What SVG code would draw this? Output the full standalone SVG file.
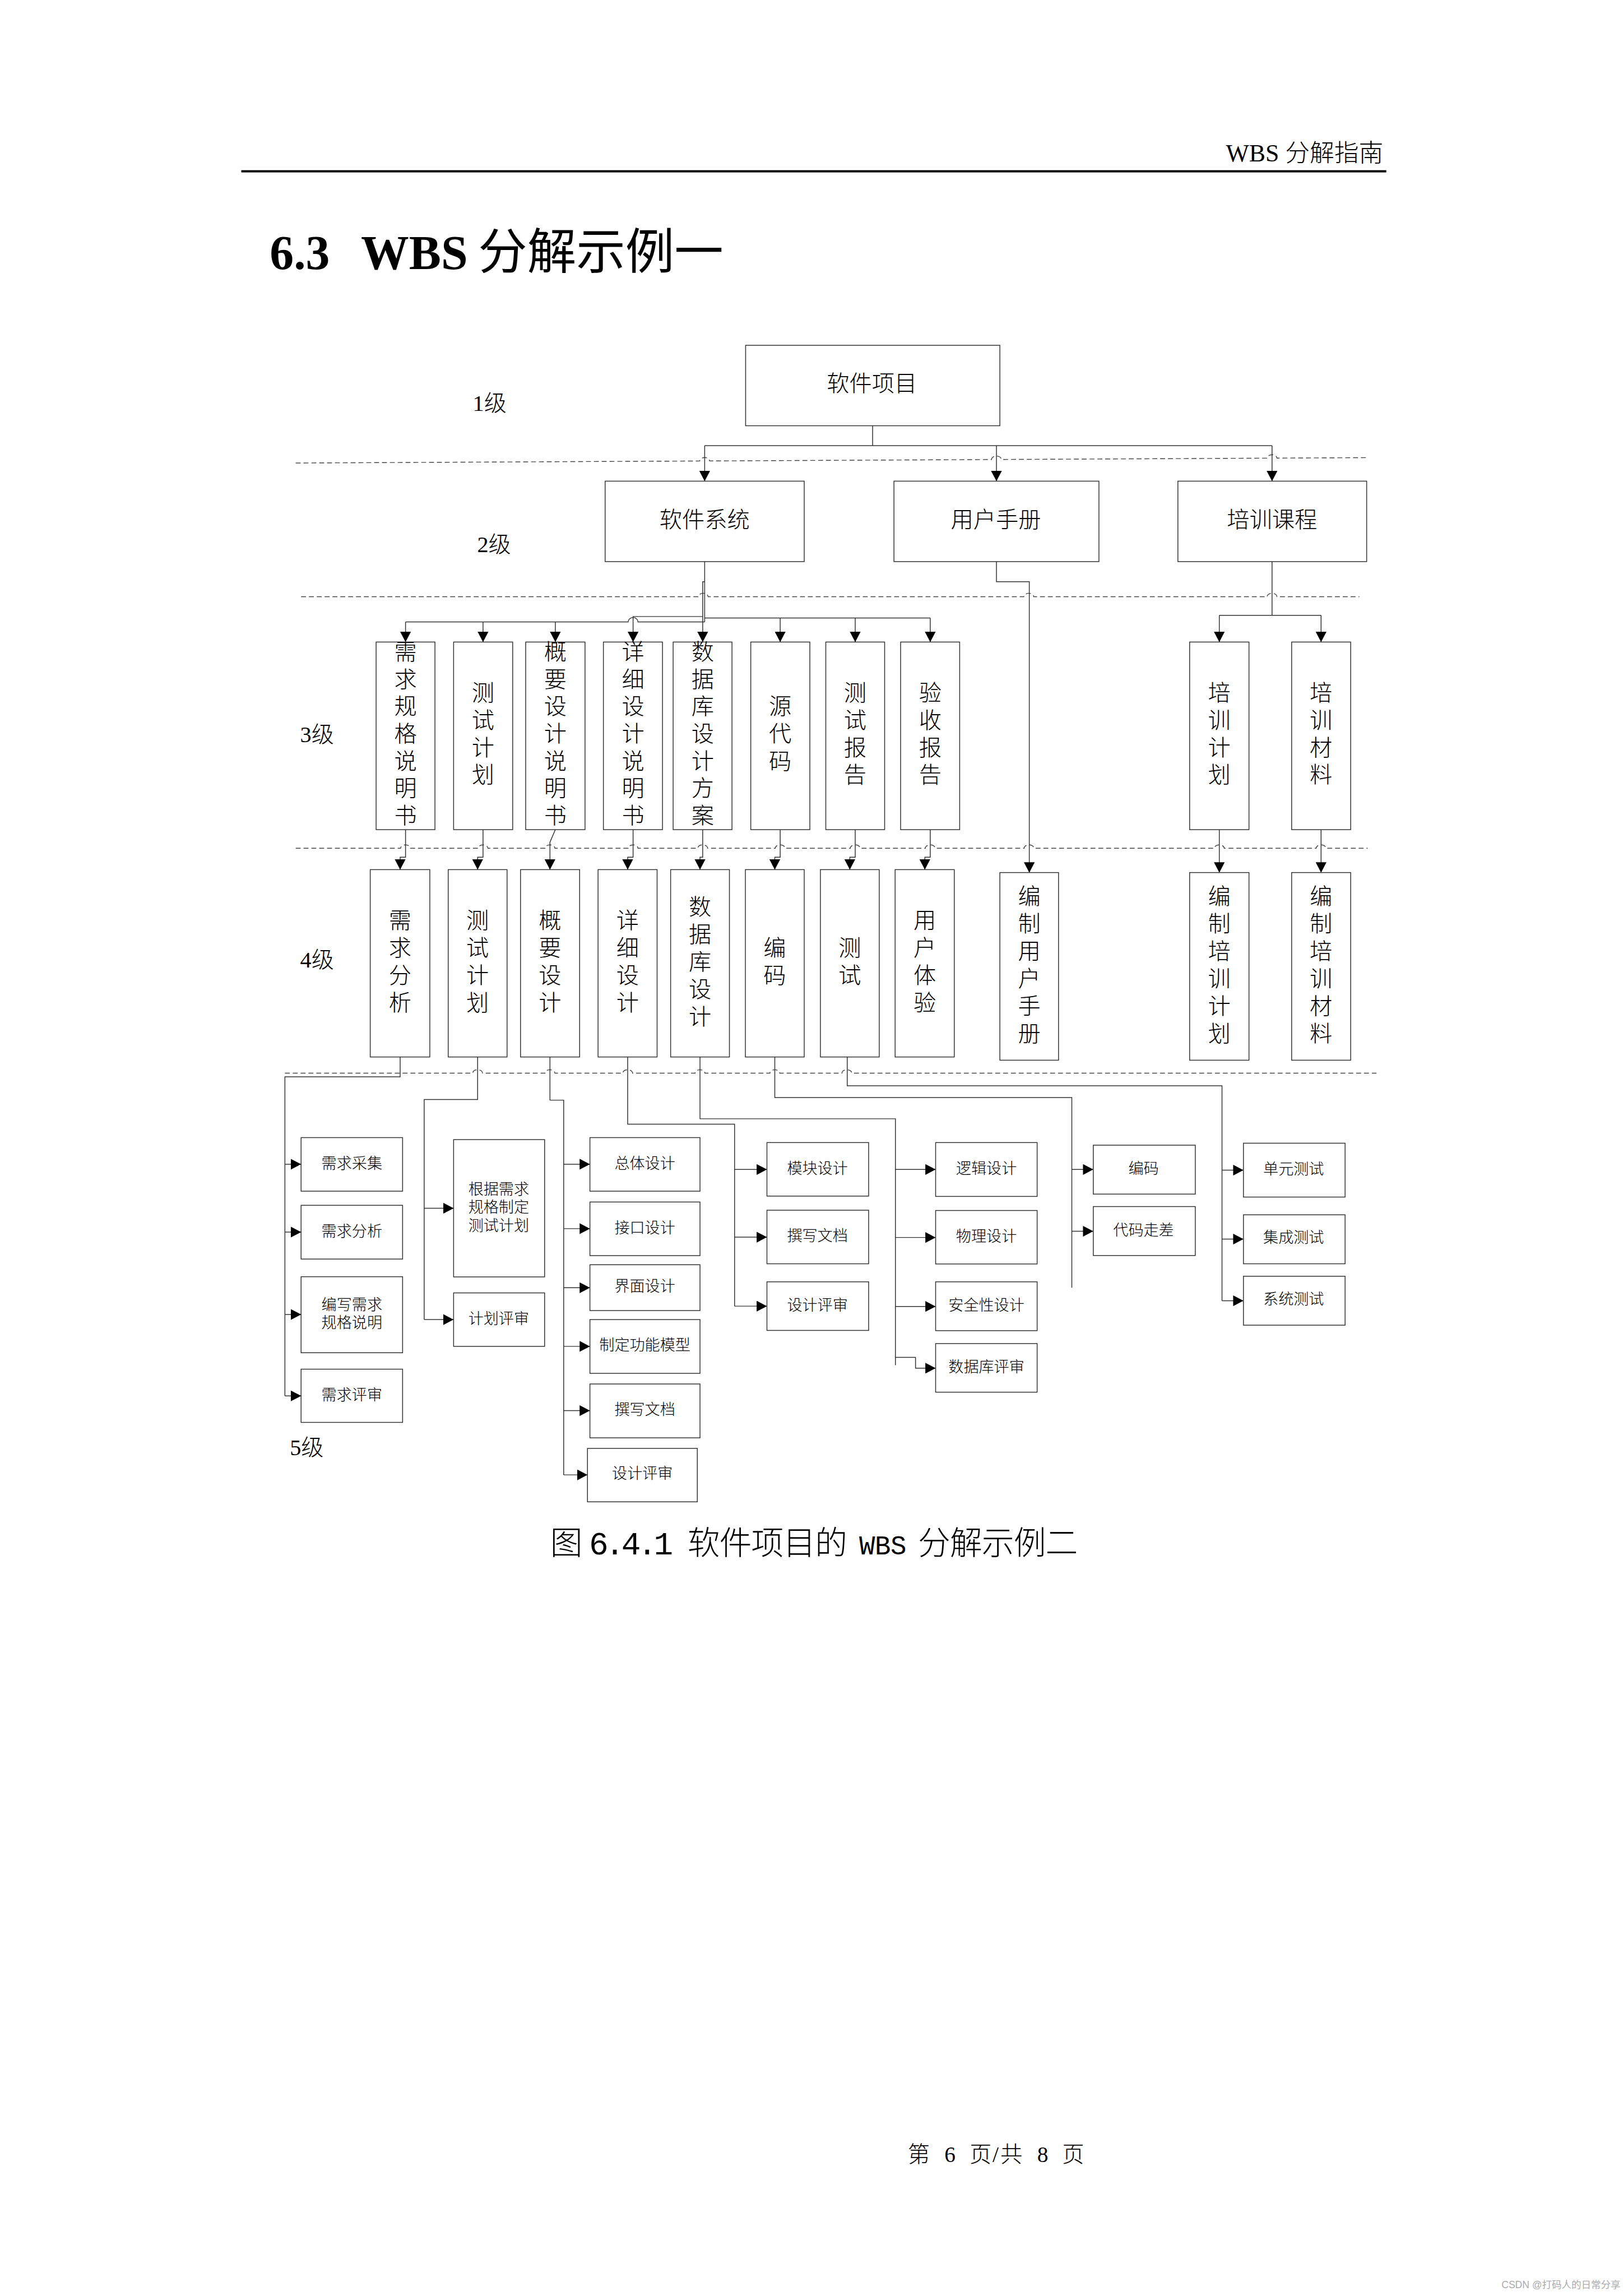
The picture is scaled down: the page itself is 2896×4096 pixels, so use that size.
<svg xmlns="http://www.w3.org/2000/svg" width="2896" height="4096" viewBox="0 0 2896 4096">
<style>
text{font-family:"Liberation Serif","Noto Sans CJK SC",serif;fill:#000}
.n rect{fill:#fff;stroke:#333;stroke-width:1.7}
.n text{font-weight:300;text-anchor:middle;dominant-baseline:central}
.b text{font-size:46px}
.s text{font-size:31px}
.c path{fill:none;stroke:#333;stroke-width:1.7}
.c .a{marker-end:url(#ah)}
.d path{fill:none;stroke:#444;stroke-width:1.6;stroke-dasharray:10 6}
.l{font-size:46px;font-weight:300}
</style>
<defs><marker id="ah" markerUnits="userSpaceOnUse" markerWidth="21" markerHeight="22" viewBox="0 0 21 22" refX="21" refY="11" orient="auto"><path d="M0 0L21 11L0 22Z" fill="#000"/></marker></defs>
<rect width="2896" height="4096" fill="#fff"/>
<g transform="scale(.875)">
<g id="page">
<rect x="492" y="347" width="2335" height="4.5" fill="#000"/>
<text x="2500" y="329" font-size="50" font-weight="300">WBS 分解指南</text>
<text y="549" font-size="98" font-weight="700"><tspan x="550">6.3</tspan> <tspan x="736">WBS</tspan> <tspan x="975" font-size="100" style="font-weight:400">分解示例一</tspan></text>
<text y="3169" font-size="66" font-weight="300" style="font-family:'Liberation Mono','Noto Sans CJK SC',monospace" x="1122 1186 1201 1234 1267 1300 1333 1366 1402 1467 1532 1597 1662 1722 1752 1784 1816 1848 1872 1937 2002 2067 2132">图 6.4.1 软件项目的 <tspan font-size="54">WBS</tspan> 分解示例二</text>
<text y="4408" font-size="45" font-weight="300" x="1851 1900 1926 1950 1977 2024 2040 2090 2115 2140 2166">第 6 页/共 8 页</text>
<text x="3062" y="4665" font-size="20" style="fill:#aaa;font-family:'Liberation Sans','Noto Sans CJK SC',sans-serif">CSDN @打码人的日常分享</text>
<text class="l" x="964" y="838">1级</text>
<text class="l" x="973" y="1126">2级</text>
<text class="l" x="612" y="1513">3级</text>
<text class="l" x="612" y="1972">4级</text>
<text class="l" x="591" y="2967">5级</text>
</g>
<g id="levels" class="d">
<path d="M603 944L1427 939.9a10 7 0 0 1 20 -.1L2022 936.9a10 7 0 0 1 20 -.1L2584 934.1a10 7 0 0 1 20 -.1L2787 933"/>
<path d="M614 1216.6H1424a10 7 0 0 1 20 0H2088a10 7 0 0 1 20 0H2584a10 7 0 0 1 20 0H2772"/>
<path d="M603 1729.5H817a10 7 0 0 1 20 0H975a10 7 0 0 1 20 0H1111.500a10 7 0 0 1 20 0H1281a10 7 0 0 1 20 0H1423a10 7 0 0 1 20 0H1581a10 7 0 0 1 20 0H1734a10 7 0 0 1 20 0H1887a10 7 0 0 1 20 0H2088.500a10 7 0 0 1 20 0H2476.500a10 7 0 0 1 20 0H2684a10 7 0 0 1 20 0H2789"/>
<path d="M581 2188H964a10 7 0 0 1 20 0H1111.500a10 7 0 0 1 20 0H1270a10 7 0 0 1 20 0H1417.500a10 7 0 0 1 20 0H1570a10 7 0 0 1 20 0H1717a10 7 0 0 1 20 0H2807"/>
</g>
<g id="connectors" class="c">
<path d="M1779.500 868V908.500"/><path d="M1437 908.500H2594"/>
<path class="a" d="M1437 908.500V981"/><path class="a" d="M2032 908.500V981"/><path class="a" d="M2594 908.500V981"/>
<path d="M1437 1145V1268"/>
<path d="M1437 1260H1897"/><path class="a" d="M1591 1260V1309"/><path class="a" d="M1744 1260V1309"/><path class="a" d="M1897 1260V1309"/>
<path d="M1437 1268H1301a10 9 0 0 0 -20 0H827"/><path class="a" d="M827 1268V1309"/><path class="a" d="M985 1268V1309"/><path class="a" d="M1132.500 1268V1309"/>
<path class="a" d="M1437 1186H1433V1309"/>
<path class="a" d="M1433 1257H1291V1309"/>
<path class="a" d="M2032 1145V1186H2099V1779"/>
<path d="M2594 1145V1254.500"/><path d="M2486.500 1254.500H2694"/><path class="a" d="M2486.500 1254.500V1309"/><path class="a" d="M2694 1254.500V1309"/>
<path class="a" d="M827 1691.500V1747.700H816V1773"/>
<path class="a" d="M985 1691.500V1747.700H974V1773"/>
<path class="a" d="M1132.500 1691.500L1121.500 1717V1773"/>
<path class="a" d="M1291 1691.500V1747.700H1280V1773"/>
<path class="a" d="M1433 1691.500V1747.700H1427.500V1773"/>
<path class="a" d="M1591 1691.500V1747.700H1580V1773"/>
<path class="a" d="M1744 1691.500V1747.700H1733V1773"/>
<path class="a" d="M1897 1691.500V1747.700H1886V1773"/>
<path class="a" d="M2486.500 1691.500V1779"/><path class="a" d="M2694 1691.500V1779"/>
<path d="M816 2155V2195.500H581V2846"/>
<path class="a" d="M581 2373.700H614"/><path class="a" d="M581 2512H614"/><path class="a" d="M581 2680H614"/><path class="a" d="M581 2846H614"/>
<path d="M974 2155V2241.700H865V2690.400"/>
<path class="a" d="M865 2463.400H925"/><path class="a" d="M865 2690.400H925"/>
<path d="M1121.500 2155V2243H1149.500V3007"/>
<path class="a" d="M1149.500 2373.700H1203"/><path class="a" d="M1149.500 2505H1203"/><path class="a" d="M1149.500 2625.500H1203"/><path class="a" d="M1149.500 2745H1203"/><path class="a" d="M1149.500 2876H1203"/><path class="a" d="M1149.500 3007H1198"/>
<path d="M1280 2155V2292H1498V2663"/>
<path class="a" d="M1498 2384.400H1564"/><path class="a" d="M1498 2522.300H1564"/><path class="a" d="M1498 2663H1564"/>
<path d="M1427.500 2155V2281H1826V2783.500"/>
<path class="a" d="M1826 2384.400H1908"/><path class="a" d="M1826 2523H1908"/><path class="a" d="M1826 2663.600H1908"/><path class="a" d="M1826 2767.400H1867V2789.500H1908"/>
<path d="M1580 2155V2237.700H2185.700V2625.500"/>
<path class="a" d="M2185.700 2384.400H2229.500"/><path class="a" d="M2185.700 2510.300H2229.500"/>
<path d="M1727.700 2155V2213.600H2492V2652"/>
<path class="a" d="M2492 2385.700H2535.700"/><path class="a" d="M2492 2526.300H2535.700"/><path class="a" d="M2492 2652H2535.700"/>
</g>
<g id="l1-1" class="n b"><rect x="1520.500" y="704" width="518.500" height="164"/><text x="1778" y="782">软件项目</text></g>
<g id="l2-1" class="n b"><rect x="1234" y="981" width="406" height="164"/><text x="1437" y="1060">软件系统</text></g>
<g id="l2-2" class="n b"><rect x="1823" y="981" width="418" height="164"/><text x="2031" y="1060">用户手册</text></g>
<g id="l2-3" class="n b"><rect x="2402" y="981" width="385" height="164"/><text x="2594" y="1060">培训课程</text></g>
<g id="l3-1" class="n b"><rect x="767" y="1309" width="120" height="382.500"/><text x="827 827 827 827 827 827 827" y="1330 1385.500 1441 1496.500 1552 1607.500 1663">需求规格说明书</text></g>
<g id="l3-2" class="n b"><rect x="925" y="1309" width="120.500" height="382.500"/><text x="985 985 985 985" y="1413 1469 1525 1580">测试计划</text></g>
<g id="l3-3" class="n b"><rect x="1072" y="1309" width="121" height="382.500"/><text x="1132.500 1132.500 1132.500 1132.500 1132.500 1132.500 1132.500" y="1330 1385.500 1441 1496.500 1552 1607.500 1663">概要设计说明书</text></g>
<g id="l3-4" class="n b"><rect x="1230.500" y="1309" width="120.500" height="382.500"/><text x="1291 1291 1291 1291 1291 1291 1291" y="1330 1385.500 1441 1496.500 1552 1607.500 1663">详细设计说明书</text></g>
<g id="l3-5" class="n b"><rect x="1372.700" y="1309" width="120" height="382.500"/><text x="1433 1433 1433 1433 1433 1433 1433" y="1330 1385.500 1441 1496.500 1552 1607.500 1663">数据库设计方案</text></g>
<g id="l3-6" class="n b"><rect x="1531" y="1309" width="120.500" height="382.500"/><text x="1591 1591 1591" y="1441 1497 1553">源代码</text></g>
<g id="l3-7" class="n b"><rect x="1684" y="1309" width="120" height="382.500"/><text x="1744 1744 1744 1744" y="1413 1469 1525 1580">测试报告</text></g>
<g id="l3-8" class="n b"><rect x="1836.600" y="1309" width="120.400" height="382.500"/><text x="1897 1897 1897 1897" y="1413 1469 1525 1580">验收报告</text></g>
<g id="l3-9" class="n b"><rect x="2426" y="1309" width="121" height="382.500"/><text x="2486.500 2486.500 2486.500 2486.500" y="1413 1469 1525 1580">培训计划</text></g>
<g id="l3-10" class="n b"><rect x="2634" y="1309" width="120.400" height="382.500"/><text x="2694 2694 2694 2694" y="1413 1469 1525 1580">培训材料</text></g>
<g id="l4-1" class="n b"><rect x="755" y="1773" width="121.500" height="382"/><text x="816 816 816 816" y="1877.500 1933.500 1989.500 2045">需求分析</text></g>
<g id="l4-2" class="n b"><rect x="914" y="1773" width="120" height="382"/><text x="974 974 974 974" y="1877.500 1933.500 1989.500 2045">测试计划</text></g>
<g id="l4-3" class="n b"><rect x="1061.500" y="1773" width="120.500" height="382"/><text x="1121.500 1121.500 1121.500 1121.500" y="1877.500 1933.500 1989.500 2045">概要设计</text></g>
<g id="l4-4" class="n b"><rect x="1219.600" y="1773" width="120.400" height="382"/><text x="1280 1280 1280 1280" y="1877.500 1933.500 1989.500 2045">详细设计</text></g>
<g id="l4-5" class="n b"><rect x="1367.600" y="1773" width="119.900" height="382"/><text x="1427.500 1427.500 1427.500 1427.500 1427.500" y="1850 1906 1962 2018 2074">数据库设计</text></g>
<g id="l4-6" class="n b"><rect x="1520" y="1773" width="120" height="382"/><text x="1580 1580" y="1933.500 1989">编码</text></g>
<g id="l4-7" class="n b"><rect x="1673" y="1773" width="120" height="382"/><text x="1733 1733" y="1933.500 1989">测试</text></g>
<g id="l4-8" class="n b"><rect x="1825.400" y="1773" width="120.600" height="382"/><text x="1886 1886 1886 1886" y="1877.500 1933.500 1989.500 2045">用户体验</text></g>
<g id="l4-9" class="n b"><rect x="2039" y="1779" width="119.600" height="382.600"/><text x="2099 2099 2099 2099 2099 2099" y="1828 1884 1940 1996 2052 2108">编制用户手册</text></g>
<g id="l4-10" class="n b"><rect x="2426" y="1779" width="121" height="382.600"/><text x="2486.500 2486.500 2486.500 2486.500 2486.500 2486.500" y="1828 1884 1940 1996 2052 2108">编制培训计划</text></g>
<g id="l4-11" class="n b"><rect x="2634" y="1779" width="120.400" height="382.600"/><text x="2694 2694 2694 2694 2694 2694" y="1828 1884 1940 1996 2052 2108">编制培训材料</text></g>
<g id="l5-1" class="n s"><rect x="614" y="2319.400" width="207" height="109.200"/><text x="717.500" y="2372">需求采集</text></g>
<g id="l5-2" class="n s"><rect x="614" y="2457.400" width="207" height="109.600"/><text x="717.500" y="2511">需求分析</text></g>
<g id="l5-3" class="n s"><rect x="614" y="2603" width="207" height="155"/><text x="717.500" y="2661">编写需求</text><text x="717.500" y="2697">规格说明</text></g>
<g id="l5-4" class="n s"><rect x="614" y="2791.500" width="207" height="108.500"/><text x="717.500" y="2844">需求评审</text></g>
<g id="l5-5" class="n s"><rect x="925" y="2323.400" width="185.600" height="280"/><text x="1017" y="2425">根据需求</text><text x="1017" y="2462">规格制定</text><text x="1017" y="2499">测试计划</text></g>
<g id="l5-6" class="n s"><rect x="925" y="2636" width="185.600" height="109"/><text x="1017" y="2689">计划评审</text></g>
<g id="l5-7" class="n s"><rect x="1203" y="2319.400" width="224.500" height="109.200"/><text x="1315" y="2372">总体设计</text></g>
<g id="l5-8" class="n s"><rect x="1203" y="2450.700" width="224.500" height="109.300"/><text x="1315" y="2503.600">接口设计</text></g>
<g id="l5-9" class="n s"><rect x="1203" y="2578.600" width="224.500" height="93.400"/><text x="1315" y="2623.400">界面设计</text></g>
<g id="l5-10" class="n s"><rect x="1203" y="2690.400" width="224.500" height="109.600"/><text x="1315" y="2743">制定功能模型</text></g>
<g id="l5-11" class="n s"><rect x="1203" y="2821.700" width="224.500" height="109.800"/><text x="1315" y="2874.600">撰写文档</text></g>
<g id="l5-12" class="n s"><rect x="1198" y="2953" width="224" height="109"/><text x="1310" y="3005">设计评审</text></g>
<g id="l5-13" class="n s"><rect x="1564" y="2329.500" width="207.400" height="109.100"/><text x="1667" y="2383">模块设计</text></g>
<g id="l5-14" class="n s"><rect x="1564" y="2467.400" width="207.400" height="109.200"/><text x="1667" y="2520">撰写文档</text></g>
<g id="l5-15" class="n s"><rect x="1564" y="2613.400" width="207.400" height="99.100"/><text x="1667" y="2661.600">设计评审</text></g>
<g id="l5-16" class="n s"><rect x="1908" y="2329.500" width="207" height="109.800"/><text x="2011.500" y="2383">逻辑设计</text></g>
<g id="l5-17" class="n s"><rect x="1908" y="2468" width="207" height="109"/><text x="2011.500" y="2521.600">物理设计</text></g>
<g id="l5-18" class="n s"><rect x="1908" y="2613.400" width="207" height="99.600"/><text x="2011.500" y="2662">安全性设计</text></g>
<g id="l5-19" class="n s"><rect x="1908" y="2739.300" width="207" height="99.100"/><text x="2011.500" y="2787.500">数据库评审</text></g>
<g id="l5-20" class="n s"><rect x="2229.500" y="2334.800" width="208" height="99.800"/><text x="2332" y="2383">编码</text></g>
<g id="l5-21" class="n s"><rect x="2229.500" y="2460" width="208" height="99.800"/><text x="2332" y="2508">代码走差</text></g>
<g id="l5-22" class="n s"><rect x="2535.700" y="2330.800" width="207.300" height="109.800"/><text x="2638" y="2383.700">单元测试</text></g>
<g id="l5-23" class="n s"><rect x="2535.700" y="2476.800" width="207.300" height="99.800"/><text x="2638" y="2523.700">集成测试</text></g>
<g id="l5-24" class="n s"><rect x="2535.700" y="2602" width="207.300" height="99.800"/><text x="2638" y="2649.600">系统测试</text></g>
</g>
</svg>
